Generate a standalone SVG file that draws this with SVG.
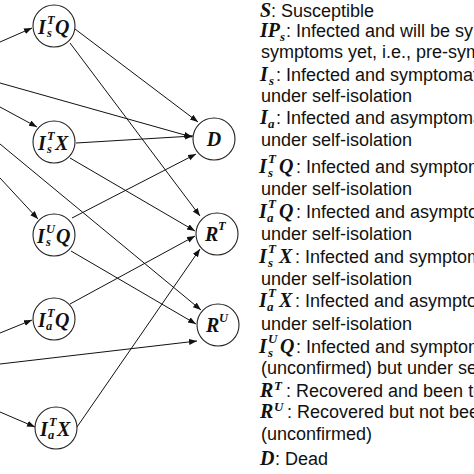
<svg xmlns="http://www.w3.org/2000/svg" width="474" height="474" viewBox="0 0 474 474">
<style>
.n{fill:#fff;stroke:#222;stroke-width:1.1}
.e{stroke:#111;stroke-width:1;fill:none;marker-end:url(#ah)}
.m{font-family:"Liberation Serif","DejaVu Serif",serif;font-weight:bold;font-style:italic;font-size:20px;fill:#111}
.ms{font-family:"Liberation Serif","DejaVu Serif",serif;font-weight:bold;font-style:italic;font-size:12.5px;fill:#111}
.L{font-family:"Liberation Serif","DejaVu Serif",serif;font-weight:bold;font-style:italic;font-size:20px;fill:#111}
.Ls{font-family:"Liberation Serif","DejaVu Serif",serif;font-weight:bold;font-style:italic;font-size:13px;fill:#111}
.t{font-family:"Liberation Sans",Arial,sans-serif;font-size:18px;fill:#111}
</style>
<defs>
<marker id="ah" markerUnits="userSpaceOnUse" markerWidth="9" markerHeight="7" refX="8" refY="3" orient="auto">
<path d="M0,0 L8,3 L0,6 z" fill="#111"/>
</marker>
</defs>
<g id="connectors">
<line class="e" x1="0" y1="42" x2="32" y2="28"/>
<line class="e" x1="0" y1="83" x2="192" y2="137"/>
<line class="e" x1="0" y1="107" x2="37" y2="127"/>
<line class="e" x1="0" y1="144" x2="201" y2="310"/>
<line class="e" x1="0" y1="178" x2="38" y2="219"/>
<line class="e" x1="75" y1="29" x2="198" y2="122"/>
<line class="e" x1="70" y1="43" x2="200" y2="216"/>
<line class="e" x1="76" y1="143" x2="193" y2="136"/>
<line class="e" x1="70" y1="158" x2="195" y2="231"/>
<line class="e" x1="72" y1="218" x2="196" y2="154"/>
<line class="e" x1="71" y1="251" x2="196" y2="324"/>
<line class="e" x1="70" y1="304" x2="195" y2="236"/>
<line class="e" x1="77" y1="427" x2="200" y2="249"/>
<line class="e" x1="0" y1="333" x2="32" y2="320"/>
<line class="e" x1="0" y1="364" x2="197" y2="341"/>
<line class="e" x1="0" y1="412" x2="35" y2="427"/>
</g>
<g id="IsTQ">
<circle class="n" cx="54" cy="26" r="21"/>
<text class="m" x="38" y="34">I</text><text class="ms" x="47" y="24">T</text><text class="ms" x="47" y="37">s</text><text class="m" x="55" y="34">Q</text>
</g>
<g id="IsTX">
<circle class="n" cx="54" cy="142" r="21"/>
<text class="m" x="38" y="150">I</text><text class="ms" x="47" y="140">T</text><text class="ms" x="47" y="153">s</text><text class="m" x="55" y="150">X</text>
</g>
<g id="IsUQ">
<circle class="n" cx="54" cy="235" r="21"/>
<text class="m" x="37" y="243">I</text><text class="ms" x="46" y="233">U</text><text class="ms" x="46" y="246">s</text><text class="m" x="56" y="243">Q</text>
</g>
<g id="IaTQ">
<circle class="n" cx="54" cy="319" r="21"/>
<text class="m" x="38" y="327">I</text><text class="ms" x="47" y="317">T</text><text class="ms" x="46" y="330">a</text><text class="m" x="55" y="327">Q</text>
</g>
<g id="IaTX">
<circle class="n" cx="56" cy="428" r="21"/>
<text class="m" x="40" y="436">I</text><text class="ms" x="49" y="426">T</text><text class="ms" x="48" y="439">a</text><text class="m" x="57" y="436">X</text>
</g>
<g id="D">
<circle class="n" cx="214" cy="139" r="21"/>
<text class="m" x="214" y="146" text-anchor="middle">D</text>
</g>
<g id="RT">
<circle class="n" cx="217" cy="234" r="21"/>
<text class="m" x="205" y="241">R</text><text class="ms" x="218" y="230">T</text>
</g>
<g id="RU">
<circle class="n" cx="218" cy="325" r="21"/>
<text class="m" x="206" y="332">R</text><text class="ms" x="219" y="322">U</text>
</g>
<g id="legend">
<text x="260" y="17"><tspan class="L">S</tspan><tspan class="t" x="271">: Susceptible</tspan></text>
<text x="260" y="37"><tspan class="L">IP</tspan><tspan class="Ls" dy="4">s</tspan><tspan class="t" x="286" dy="-4">: Infected and will be sy</tspan></text>
<text class="t" x="261" y="58">symptoms yet, i.e., pre-sym</text>
<text x="260" y="81"><tspan class="L">I</tspan><tspan class="Ls" x="269" dy="4">s</tspan><tspan class="t" x="276" dy="-4">: Infected and symptomat</tspan></text>
<text class="t" x="261" y="102">under self-isolation</text>
<text x="260" y="124"><tspan class="L">I</tspan><tspan class="Ls" x="268" dy="4">a</tspan><tspan class="t" x="276" dy="-4">: Infected and asymptoma</tspan></text>
<text class="t" x="261" y="146">under self-isolation</text>
<text class="L" x="259" y="173">I</text><text class="Ls" x="268" y="163">T</text><text class="Ls" x="268" y="177">s</text><text class="L" x="279" y="173">Q</text><text class="t" x="296" y="173">: Infected and symptom</text>
<text class="t" x="261" y="195">under self-isolation</text>
<text class="L" x="259" y="218">I</text><text class="Ls" x="268" y="208">T</text><text class="Ls" x="267" y="222">a</text><text class="L" x="279" y="218">Q</text><text class="t" x="296" y="218">: Infected and asymptom</text>
<text class="t" x="261" y="240">under self-isolation</text>
<text class="L" x="259" y="263">I</text><text class="Ls" x="268" y="253">T</text><text class="Ls" x="268" y="267">s</text><text class="L" x="279" y="263">X</text><text class="t" x="295" y="263">: Infected and symptom</text>
<text class="t" x="261" y="285">under self-isolation</text>
<text class="L" x="259" y="307">I</text><text class="Ls" x="268" y="297">T</text><text class="Ls" x="267" y="311">a</text><text class="L" x="279" y="307">X</text><text class="t" x="295" y="307">: Infected and asymptom</text>
<text class="t" x="261" y="330">under self-isolation</text>
<text class="L" x="259" y="353">I</text><text class="Ls" x="268" y="343">U</text><text class="Ls" x="268" y="357">s</text><text class="L" x="280" y="353">Q</text><text class="t" x="296" y="353">: Infected and symptom</text>
<text class="t" x="261" y="374">(unconfirmed) but under se</text>
<text x="260" y="397"><tspan class="L">R</tspan><tspan class="Ls" x="274" dy="-7">T</tspan><tspan class="t" x="286" dy="7">: Recovered and been te</tspan></text>
<text x="260" y="418"><tspan class="L">R</tspan><tspan class="Ls" x="274" dy="-7">U</tspan><tspan class="t" x="287" dy="7">: Recovered but not been</tspan></text>
<text class="t" x="261" y="440">(unconfirmed)</text>
<text x="260" y="465"><tspan class="L">D</tspan><tspan class="t" x="275">: Dead</tspan></text>
</g>
</svg>
